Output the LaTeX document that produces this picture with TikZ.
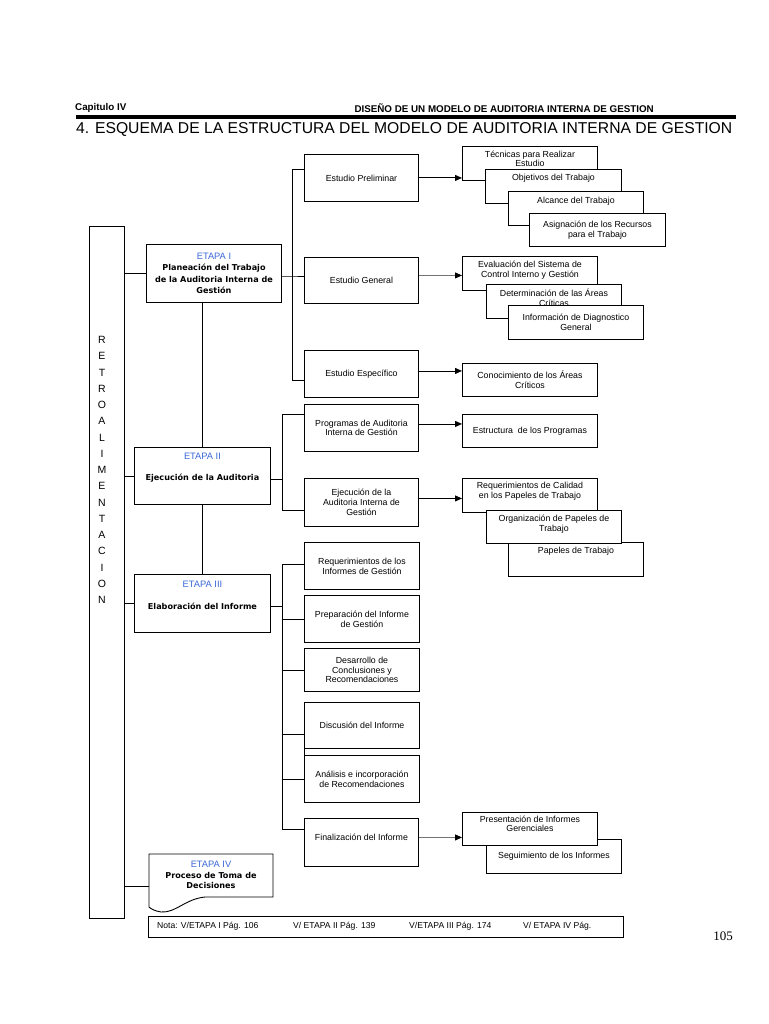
\documentclass[tikz,border=0pt]{standalone}
\usepackage{fontspec}
\setmainfont{Liberation Sans}
\newfontfamily\djv{DejaVu Sans}
\newfontfamily\serifpn{Liberation Serif}
\usetikzlibrary{arrows.meta}
\definecolor{etblue}{RGB}{58,102,214}
\newcommand\etlabel[1]{{\normalfont\fontsize{9.3}{11.3}\selectfont\color{etblue}#1}}
\begin{document}
\begin{tikzpicture}[x=1pt,y=-1pt,
  bx/.style={draw, line width=0.9pt, fill=white, inner sep=1pt, anchor=north west, align=center, font=\fontsize{8.8}{9.8}\selectfont},
  tx/.style={inner sep=0pt, align=center, font=\fontsize{8.8}{9.8}\selectfont},
  ettx/.style={inner sep=0pt, align=center, font=\djv\bfseries\fontsize{8.1}{11.3}\selectfont},
  ln/.style={line width=0.9pt},
  arr/.style={line width=0.9pt, -{Triangle[length=7pt,width=6pt,color=black,fill=black]}},
]
\fill[white] (0,0) rectangle (768,1024);
\useasboundingbox (0,0) rectangle (768,1024);

% header
\node[anchor=west, inner sep=0pt, font=\bfseries\fontsize{9.8}{10}\selectfont] (cap) at (75,108) {Capitulo IV};
\node[anchor=east, inner sep=0pt, font=\bfseries\fontsize{9.8}{10}\selectfont] (dis) at (654,108) {DISEÑO DE UN MODELO DE AUDITORIA INTERNA DE GESTION};
\draw[line width=3.5pt] (76,117) -- (736,117);
\node[anchor=west, inner sep=0pt] (title) at (76,130) {\resizebox{656pt}{!}{\fontsize{14}{14}\selectfont 4. ESQUEMA DE LA ESTRUCTURA DEL MODELO DE AUDITORIA INTERNA DE GESTION}};

% retroalimentacion
\node[bx, minimum width=35pt, minimum height=692pt] (retro) at (89,226) {};
\node[inner sep=0pt, align=center, font=\fontsize{10.5}{16.25}\selectfont] (retrol) at (102,470) {R\\E\\T\\R\\O\\A\\L\\I\\M\\E\\N\\T\\A\\C\\I\\O\\N};

% etapas
\node[bx, minimum width=135pt, minimum height=58pt, font=\djv\bfseries\fontsize{8.1}{11.3}\selectfont] (e1) at (146,244) {\etlabel{ETAPA I}\\Planeación del Trabajo\\de la Auditoria Interna de\\Gestión};
\node[bx, minimum width=136pt, minimum height=57pt] (e2) at (134,447) {};
\node[ettx] (e2t) at ([yshift=8pt]e2.center) {\etlabel{ETAPA II}\\[9.5pt]Ejecución de la Auditoria};
\node[bx, minimum width=136pt, minimum height=58pt] (e3) at (134,574) {};
\node[ettx] (e3t) at ([yshift=8pt]e3.center) {\etlabel{ETAPA III}\\[10pt]Elaboración del Informe};

% etapa IV document shape
\draw[ln, fill=white] (149,854) -- (273,854) -- (273,897) -- (205,897)
  .. controls (185,899) and (176,913) .. (161,912)
  .. controls (155,911) and (151,909) .. (149,907) -- cycle;
\node[anchor=north west, inner sep=0pt, minimum width=124pt, minimum height=44pt] (e4) at (149,854) {};
\node[ettx, font=\djv\bfseries\fontsize{8.1}{10.5}\selectfont] (e4t) at (211,875) {\etlabel{ETAPA IV}\\Proceso de Toma de\\Decisiones};
\coordinate (e4c) at (149,886);

% connections retro -> etapas
\draw[ln] (retro.east |- e1.west) -- (e1.west);
\draw[ln] (retro.east |- e2.west) -- (e2.west);
\draw[ln] (retro.east |- e3.west) -- (e3.west);
\draw[ln] (retro.east |- e4c) -- (e4c);
\draw[ln] (e2.north |- e1.south) -- (e2.north);
\draw[ln] (e2.south) -- (e3.north);

% level 2 boxes
\node[bx, minimum width=114pt, minimum height=47pt] (prelim) at (304,154) {Estudio Preliminar};
\node[bx, minimum width=114pt, minimum height=46pt] (general) at (304,257) {Estudio General};
\node[bx, minimum width=114pt, minimum height=47pt] (especif) at (304,350) {Estudio Específico};
\node[bx, minimum width=114pt, minimum height=47pt] (prog) at (304,404) {Programas de Auditoria\\Interna de Gestión};
\node[bx, minimum width=114pt, minimum height=48pt] (ejec) at (304,478) {Ejecución de la\\Auditoria Interna de\\Gestión};
\node[bx, minimum width=115pt, minimum height=47pt] (reqinf) at (304,542) {Requerimientos de los\\Informes de Gestión};
\node[bx, minimum width=115pt, minimum height=47pt] (prep) at (304,595) {Preparación del Informe\\de Gestión};
\node[bx, minimum width=115pt, minimum height=43pt] (desa) at (304,648) {Desarrollo de\\Conclusiones y\\Recomendaciones};
\node[bx, minimum width=115pt, minimum height=46pt] (disc) at (304,702) {Discusión del Informe};
\node[bx, minimum width=115pt, minimum height=47pt] (anal) at (304,755) {Análisis e incorporación\\de Recomendaciones};
\node[bx, minimum width=114pt, minimum height=48pt] (fin) at (304,818) {};
\node[tx] (fint) at ([yshift=5pt]fin.center) {Finalización del Informe};
\draw[ln] (disc.south west) -- (anal.north west);

% buses
\coordinate (t1) at (292,169);
\coordinate (j1) at (292,276);
\coordinate (b1) at (292,380);
\draw[ln] (t1 -| prelim.west) -- (t1) -- (b1) -- (b1 -| especif.west);
\draw[ln] (e1.east |- j1) -- (j1) -- (j1 -| general.west);

\coordinate (t2) at (282,414);
\coordinate (j2) at (282,479);
\coordinate (b2) at (282,510);
\draw[ln] (t2 -| prog.west) -- (t2) -- (b2) -- (b2 -| ejec.west);
\draw[ln] (e2.east |- j2) -- (j2);

\coordinate (t3) at (282,564);
\coordinate (j3) at (282,606);
\coordinate (c3) at (282,734);
\coordinate (b3) at (282,829);
\draw[ln] (t3 -| reqinf.west) -- (t3) -- (b3) -- (b3 -| fin.west);
\draw[ln] (e3.east |- j3) -- (j3);
\draw[ln] (t3 |- prep.west) -- (prep.west);
\draw[ln] (t3 |- desa.west) -- (desa.west);
\draw[ln] (c3) -- (c3 -| disc.west);
\draw[ln] (t3 |- anal.west) -- (anal.west);

% level 3: stack A
\node[bx, minimum width=135pt, minimum height=34pt] (tec) at (462,146) {};
\node[tx, anchor=north] (tect) at ([yshift=-4.5pt]tec.north) {Técnicas para Realizar\\Estudio};
\node[bx, minimum width=136pt, minimum height=34pt] (obj) at (485,169) {};
\node[tx, anchor=north] (objt) at ([yshift=-5pt]obj.north) {Objetivos del Trabajo};
\node[bx, minimum width=135pt, minimum height=34pt] (alc) at (508,191) {};
\node[tx, anchor=north] (alct) at ([yshift=-5.5pt]alc.north) {Alcance del Trabajo};
\node[bx, minimum width=136pt, minimum height=33pt] (asig) at (529,213) {Asignación de los Recursos\\para el Trabajo};

% stack B
\node[bx, minimum width=135pt, minimum height=34pt] (eval) at (462,256) {};
\node[tx, anchor=north] (evalt) at ([yshift=-5pt]eval.north) {Evaluación del Sistema de\\Control Interno y Gestión};
\node[bx, minimum width=135pt, minimum height=34pt] (det) at (486,284) {};
\node[tx, anchor=north] (dett) at ([yshift=-5pt]det.north) {Determinación de las Áreas\\Críticas};
\node[bx, minimum width=135pt, minimum height=34pt] (info) at (508,305) {Información de Diagnostico\\General};

\node[bx, minimum width=135pt, minimum height=33pt] (cono) at (462,363) {Conocimiento de los Áreas\\Críticos};
\node[bx, minimum width=135pt, minimum height=33pt] (estr) at (462,414) {Estructura\ \ de los Programas};

% stack C
\node[bx, minimum width=135pt, minimum height=34pt] (reqcal) at (462,478) {};
\node[tx, anchor=north] (reqcalt) at ([yshift=-4pt]reqcal.north) {Requerimientos de Calidad\\en los Papeles de Trabajo};
\node[bx, minimum width=135pt, minimum height=34pt] (pap) at (508,542) {};
\node[tx, anchor=north] (papt) at ([yshift=-5pt]pap.north) {Papeles de Trabajo};
\node[bx, minimum width=135pt, minimum height=33pt] (org) at (486,510) {};
\node[tx, anchor=north] (orgt) at ([yshift=-5pt]org.north) {Organización de Papeles de\\Trabajo};

% stack D
\node[bx, minimum width=135pt, minimum height=34pt] (seg) at (486,839) {Seguimiento de los Informes};
\node[bx, minimum width=135pt, minimum height=33pt] (pres) at (462,812) {};
\node[tx, anchor=north] (prest) at ([yshift=-3.5pt]pres.north) {Presentación de Informes\\Gerenciales};

% arrows
\draw[arr] (prelim.east) -- (prelim.east -| tec.west);
\draw[arr, draw=black!55] ([yshift=5pt]general.east) -- ([yshift=5pt]general.east -| eval.west);
\draw[arr] ([yshift=3pt]especif.east) -- ([yshift=3pt]especif.east -| cono.west);
\draw[arr] ([yshift=4pt]prog.east) -- ([yshift=4pt]prog.east -| estr.west);
\draw[arr] ([yshift=4pt]ejec.east) -- ([yshift=4pt]ejec.east -| reqcal.west);
\draw[arr, draw=black!55] ([yshift=5pt]fin.east) -- ([yshift=5pt]fin.east -| pres.west);

% nota
\node[bx, minimum width=475pt, minimum height=21pt] (nota) at (148,916) {};
\node[anchor=west, inner sep=0pt, font=\fontsize{8.6}{9}\selectfont] (notat) at (157,926.5) {\makebox[136pt][l]{Nota: V/ETAPA I Pág. 106}\makebox[116pt][l]{V/ ETAPA II Pág. 139}\makebox[114pt][l]{V/ETAPA III Pág. 174}V/ ETAPA IV Pág.};

% page number
\node[inner sep=0pt, font=\serifpn\fontsize{13}{13}\selectfont] (pg) at (723,936) {105};
\end{tikzpicture}
\end{document}
